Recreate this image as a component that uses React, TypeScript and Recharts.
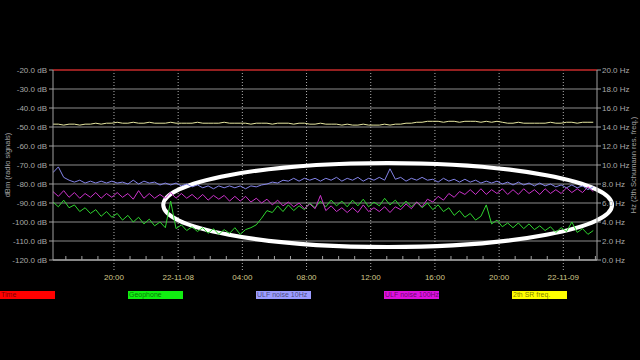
import { ComposedChart, Line, XAxis, YAxis, CartesianGrid, ReferenceArea } from 'recharts';

// time axis in hours, 0 = 22-11-08 00:00, one sample every 20 minutes
const START_HOUR = -7.8;
const STEP_HOURS = 1 / 3;
const X_DOMAIN: [number, number] = [-7.8, 26.1];

const GEOPHONE_DB = [
    -89.5, -92, -88.5, -92.5,
    -91, -94.5, -92.5, -95.5, -93.5,
    -97, -94.5, -97.5, -95.5,
    -99, -96.5, -100, -97.5,
    -101, -98.5, -102, -100,
    -103, -89, -103.5,
    -101.5, -104.5, -102.5, -105,
    -103, -106, -103.5, -106.5, -104,
    -106, -103, -106.5, -104,
    -103, -101.5,
    -98, -94, -95,
    -91.5, -94.5, -91, -94, -91.5,
    -93.5, -90, -92.5, -89,
    -92, -88.5, -91.5, -89, -92,
    -88.5, -91.5, -88, -92, -89.5,
    -91.5, -87.5, -91, -88.5, -92,
    -89, -92, -89.5, -92.5, -90,
    -93.5, -91, -94.5,
    -92.5, -96.5, -94, -97.5,
    -95.5, -99, -97, -91,
    -101, -99, -102.5, -100.5,
    -103, -100.5, -103.5, -101, -104,
    -102, -104.5, -102.5, -105.5, -103,
    -105, -100, -105.5, -103.5, -106.5, -104.5,
];

const ULF10_DB = [
    -74, -71, -76.5, -78,
    -79, -78, -79.5, -78.5, -79.5,
    -78.5, -79.5, -78.5, -79.5,
    -79, -80, -78, -80,
    -78.5, -79.5, -79, -80.5,
    -79.5, -80.5, -79.5,
    -81, -80, -81.5, -80.5,
    -82, -81, -82.5, -81, -82,
    -81, -82, -81, -82.5,
    -81, -81.5,
    -80.5, -80, -79,
    -79.5, -78, -78.5, -77, -78.5,
    -77, -78, -77, -78.5,
    -77, -78, -76.5, -78.5, -77,
    -78, -76.5, -78.5, -77, -78,
    -76.5, -78, -72, -77.5, -76.5,
    -78.5, -77, -78, -76.5, -78,
    -77.5, -79, -77,
    -78.5, -77.5, -79, -77.5,
    -79, -78, -79.5, -78.5,
    -79.5, -78.5, -80, -79,
    -80.5, -79, -80.5, -79.5, -81,
    -79.5, -81, -80, -81.5, -80.5,
    -82, -80.5, -82, -81, -83, -81.5,
];

const ULF100_DB = [
    -84, -86.5, -83.5, -87,
    -84.5, -87.5, -85, -87, -84.5,
    -87.5, -85, -87, -84.5,
    -87, -85, -88, -83.5,
    -87.5, -85, -87.5, -85.5,
    -87.5, -84.5, -87.5,
    -85, -87.5, -85.5, -88,
    -85.5, -88.5, -86, -88, -86,
    -89, -86.5, -89, -86.5,
    -89.5, -87.5,
    -90, -88, -91,
    -88.5, -91.5, -89.5, -92, -90,
    -93, -90.5, -93, -86,
    -94, -91.5, -94.5, -92.5, -95,
    -92.5, -95, -91, -94.5, -92.5,
    -94.5, -92, -95, -92, -93.5,
    -90.5, -93, -89.5, -92, -88,
    -89.5, -86.5, -88.5,
    -85, -87, -84, -85.5,
    -83, -85.5, -82.5, -85.5,
    -83, -85, -82.5, -85.5,
    -83, -85.5, -82.5, -85, -83,
    -85.5, -82.5, -85, -83, -85,
    -82, -84.5, -82.5, -84.5, -81.5, -84,
];

const SR2_HZ = [
    14.3, 14.3, 14.2, 14.3, 14.3, 14.2, 14.3, 14.3, 14.4, 14.3, 14.4, 14.4, 14.5,
    14.4, 14.4, 14.5, 14.4, 14.4, 14.5, 14.4, 14.4, 14.4, 14.5, 14.4, 14.4, 14.4,
    14.4, 14.5, 14.4, 14.4, 14.4, 14.4, 14.5, 14.4, 14.4, 14.4, 14.4, 14.3, 14.4,
    14.4, 14.4, 14.3, 14.4, 14.4, 14.4, 14.3, 14.4, 14.4, 14.3, 14.3, 14.4, 14.3,
    14.3, 14.3, 14.2, 14.3, 14.2, 14.2, 14.3, 14.2, 14.2, 14.2, 14.3, 14.2, 14.3,
    14.3, 14.4, 14.4, 14.5, 14.5, 14.6, 14.6, 14.6, 14.5, 14.6, 14.6, 14.5, 14.6,
    14.6, 14.6, 14.5, 14.6, 14.5, 14.6, 14.5, 14.4, 14.4, 14.5, 14.4, 14.4, 14.4,
    14.4, 14.4, 14.5, 14.4, 14.4, 14.5, 14.5, 14.4, 14.5, 14.5, 14.5,
];

const TIME_LINE = [
    { t: -7.8, v: -20 },
    { t: 26.1, v: -20 },
];

const X_TICKS = [-4, 0, 4, 8, 12, 16, 20, 24];
const X_TICK_LABELS = ['20:00', '22-11-08', '04:00', '08:00', '12:00', '16:00', '20:00', '22-11-09'];
const DB_TICKS = [-120, -110, -100, -90, -80, -70, -60, -50, -40, -30, -20];
const HZ_TICKS = [0, 2, 4, 6, 8, 10, 12, 14, 16, 18, 20];
const HOUR_TICKS = Array.from({ length: 34 }, (_, i) => i - 7);

const LEGEND = [
    { name: 'Time', color: '#ff0000' },
    { name: 'Geophone', color: '#11ee11' },
    { name: 'ULF noise 10Hz', color: '#9c9cff' },
    { name: 'ULF noise 100Hz', color: '#dd11dd' },
    { name: '2th SR freq.', color: '#ffff00' },
];

// the hand drawn ellipse, in axis units
const ELLIPSE = { x1: -0.93, x2: 27.04, y1: -113.2, y2: -68.9 };

const data = GEOPHONE_DB.map((g, i) => ({
    t: START_HOUR + i * STEP_HOURS,
    geo: g,
    ulf10: ULF10_DB[i],
    ulf100: ULF100_DB[i],
    sr: SR2_HZ[i],
}));

const FONT = '"Liberation Sans", Arial, sans-serif';
const X_TICK_SIZE = 12;
const X_TICK_MARGIN = 1;

function DbTick(props: any) {
    const { x, y, payload } = props;
    return (
        <text x={x} y={y} dy={3} textAnchor="end" fill="#a8a8a8" fontSize={8} fontFamily={FONT}>
            {`${payload.value.toFixed(1)} dB`}
        </text>
    );
}

function HzTick(props: any) {
    const { x, y, payload } = props;
    return (
        <text x={x} y={y} dy={3} textAnchor="start" fill="#a8a8a8" fontSize={8} fontFamily={FONT}>
            {`${payload.value.toFixed(1)} Hz`}
        </text>
    );
}

// hourly ticks: short marks inside the plot, labelled dotted marks every 4 hours
function TimeTick(props: any) {
    const { x, y, payload } = props;
    const axisY = y - X_TICK_SIZE - X_TICK_MARGIN;
    const i = X_TICKS.indexOf(payload.value);
    if (i < 0) {
        return <line x1={x} x2={x} y1={axisY} y2={axisY - 4} stroke="#a0a0a0" />;
    }
    return (
        <g>
            <line x1={x} x2={x} y1={axisY} y2={axisY + X_TICK_SIZE} stroke="#b0b0b0" strokeDasharray="1 2" />
            <text x={x} y={y} dy={7} textAnchor="middle" fill="#d2c88a" fontSize={8} fontFamily={FONT}>
                {X_TICK_LABELS[i]}
            </text>
        </g>
    );
}

function leftLabel(props: any) {
    const { x, y, height } = props.viewBox;
    const cx = x + 8;
    const cy = y + height / 2;
    return (
        <text x={cx} y={cy} transform={`rotate(-90 ${cx} ${cy})`} textAnchor="middle" dominantBaseline="middle"
            fill="#a0a0a0" fontSize={7.5} fontFamily={FONT}>
            dBm (radio signals)
        </text>
    );
}

function rightLabel(props: any) {
    const { x, y, width, height } = props.viewBox;
    const cx = x + width - 6;
    const cy = y + height / 2;
    return (
        <text x={cx} y={cy} transform={`rotate(-90 ${cx} ${cy})`} textAnchor="middle" dominantBaseline="middle"
            fill="#a0a0a0" fontSize={7.5} fontFamily={FONT}>
            Hz (2th Schumann res. freq.)
        </text>
    );
}

function EllipseShape(props: any) {
    const { x, y, width, height } = props;
    return (
        <ellipse cx={x + width / 2} cy={y + height / 2} rx={width / 2} ry={height / 2}
            fill="none" stroke="#ffffff" strokeWidth={4} />
    );
}

export default function App() {
    return (
        <div style={{ position: 'relative', width: 640, height: 360, background: '#000' }}>
            <style>{'body{margin:0;background:#000}'}</style>
            <ComposedChart width={640} height={360} data={data} margin={{ top: 70, right: 0, bottom: 80, left: 0 }}>
                <CartesianGrid xAxisId="t" yAxisId="db" vertical={false} stroke="#8c8c8c" />
                <CartesianGrid xAxisId="t" yAxisId="db" horizontal={false} verticalValues={X_TICKS}
                    stroke="#b0b0b0" strokeDasharray="1 2" />
                <XAxis xAxisId="t" type="number" dataKey="t" domain={X_DOMAIN} ticks={HOUR_TICKS}
                    allowDataOverflow height={20} tickSize={X_TICK_SIZE} tickMargin={X_TICK_MARGIN} interval={0}
                    axisLine={{ stroke: '#c8c8c8' }} tickLine={false} tick={<TimeTick />} />
                <YAxis yAxisId="db" orientation="left" width={53} domain={[-120, -20]} ticks={DB_TICKS}
                    tickSize={4} tickMargin={2} interval={0}
                    axisLine={{ stroke: '#a0a0a0' }} tickLine={{ stroke: '#a0a0a0' }}
                    tick={<DbTick />} label={leftLabel} />
                <YAxis yAxisId="hz" orientation="right" width={43} domain={[0, 20]} ticks={HZ_TICKS}
                    tickSize={4} tickMargin={1} interval={0}
                    axisLine={{ stroke: '#a0a0a0' }} tickLine={{ stroke: '#a0a0a0' }}
                    tick={<HzTick />} label={rightLabel} />
                <Line xAxisId="t" yAxisId="hz" dataKey="sr" stroke="#e6e6a0" strokeWidth={1} dot={false}
                    isAnimationActive={false} />
                <Line xAxisId="t" yAxisId="db" dataKey="geo" stroke="#2fd42f" strokeWidth={1} dot={false}
                    isAnimationActive={false} />
                <Line xAxisId="t" yAxisId="db" dataKey="ulf100" stroke="#cc33cc" strokeWidth={1} dot={false}
                    isAnimationActive={false} />
                <Line xAxisId="t" yAxisId="db" dataKey="ulf10" stroke="#8484e8" strokeWidth={1} dot={false}
                    isAnimationActive={false} />
                <Line xAxisId="t" yAxisId="db" data={TIME_LINE} dataKey="v" stroke="#b01414" strokeWidth={1.5}
                    dot={false} isAnimationActive={false} />
                <ReferenceArea xAxisId="t" yAxisId="db" x1={ELLIPSE.x1} x2={ELLIPSE.x2} y1={ELLIPSE.y1}
                    y2={ELLIPSE.y2} ifOverflow="visible" shape={EllipseShape} />
            </ComposedChart>
            <div style={{ position: 'absolute', top: 291, left: 0, width: 640, height: 9 }}>
                {LEGEND.map((item, i) => (
                    <div key={item.name} style={{
                        position: 'absolute', left: i * 128, top: 0, width: 55, height: 8,
                        background: item.color, color: 'rgba(0,0,0,0.55)', fontSize: 7, lineHeight: '8px',
                        fontFamily: FONT, whiteSpace: 'nowrap', overflow: 'hidden', paddingLeft: 1, boxSizing: 'border-box',
                    }}>
                        {item.name}
                    </div>
                ))}
            </div>
        </div>
    );
}
